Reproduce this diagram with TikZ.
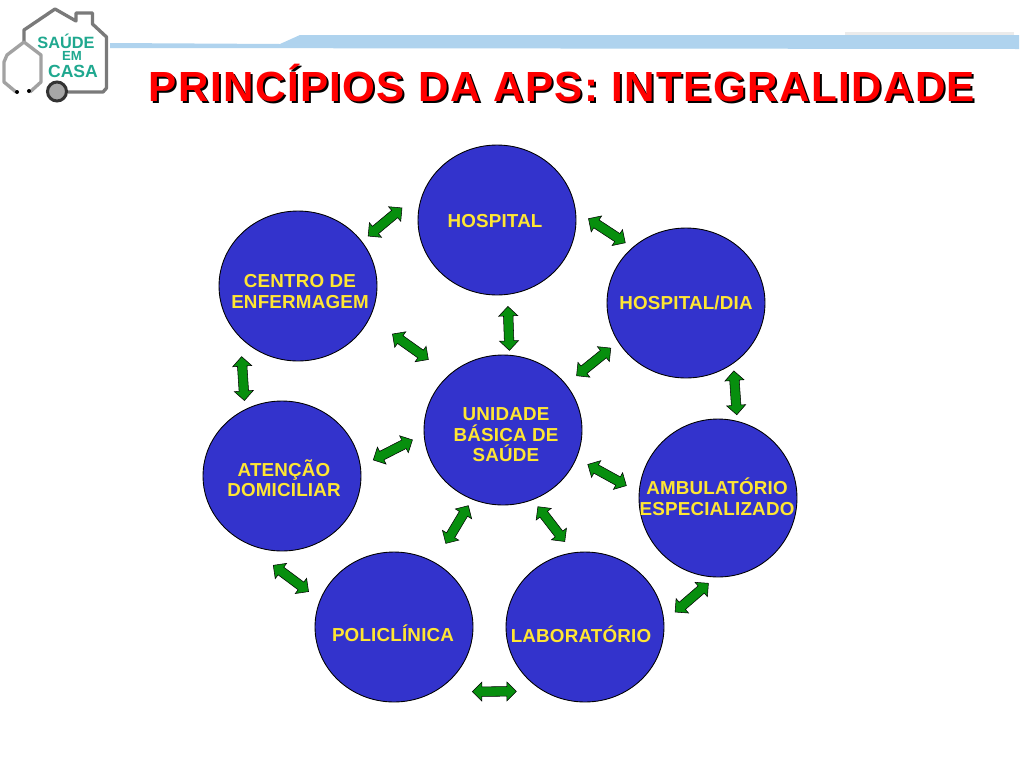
\documentclass[tikz,border=0pt]{standalone}
\usepackage{fontspec}
\setmainfont{Liberation Sans}
\usetikzlibrary{shapes.geometric,shapes.arrows}
\definecolor{unitblue}{HTML}{3333CC}
\definecolor{unityellow}{HTML}{FFE633}
\definecolor{linkgreen}{HTML}{078F0E}
\definecolor{bandblue}{HTML}{AFD3EE}
\definecolor{logoteal}{HTML}{1FA88F}
\definecolor{logogray}{HTML}{7A7A7A}
\tikzset{
  unit/.style={ellipse,draw=black,fill=unitblue,line width=0.5pt,inner sep=0pt,minimum width=3.16cm,minimum height=3.0cm},
  unittext/.style={text=unityellow,align=center,inner sep=0pt,font=\fontsize{10.7}{11.7}\selectfont\bfseries\addfontfeatures{LetterSpace=1}},
  link/.style={double arrow,draw=black,fill=linkgreen,line width=0.3pt,inner xsep=0pt,inner ysep=0.09cm,sloped,
    minimum height=0.88cm,minimum width=0.37cm,double arrow head extend=0.095cm},
  titletext/.style={anchor=base,inner sep=0pt,font=\fontsize{24}{28}\selectfont\bfseries\addfontfeatures{LetterSpace=3.3}},
  logotext/.style={text=logoteal,inner sep=0pt,font=\bfseries}
}
\begin{document}
\begin{tikzpicture}[x=0.02cm,y=0.02cm]
\useasboundingbox (0,0) rectangle (1024,-768);
\fill [white] (0,0) rectangle (1024,-768);
% top band
\fill [black!8] (845,-32) rectangle (1014,-36);
\fill [bandblue] (110,-43) -- (280,-44) -- (300,-35) -- (1019,-35) -- (1019,-49) -- (110,-48) -- cycle;
% logo
\draw [logogray,line width=1.9pt,line join=round] (24,-42) -- (24,-30) -- (55,-9) -- (76,-21) -- (76,-13) -- (92.5,-13) -- (92.5,-24) -- (106.5,-37) -- (106.5,-88) -- (103,-92) -- (68,-92);
\draw [logogray!70,line width=1.9pt,line join=round] (16,-92) -- (4,-82) -- (4,-62) -- (7,-55) -- (24,-42) -- (41,-55) -- (41,-82) -- (30,-92);
\fill [black] (17,-92) circle (2);
\fill [black] (29,-91) circle (2);
\draw [black!80,fill=black!35,line width=1.7pt] (57,-91.5) circle (9.5);
\node [logotext,font=\fontsize{9.3}{10}\selectfont\bfseries] (logoa) at (66,-41) {SAÚDE};
\node [logotext,font=\fontsize{7.5}{8}\selectfont\bfseries] (logob) at (72,-56) {EM};
\node [logotext,font=\fontsize{10}{11}\selectfont\bfseries] (logoc) at (73,-71) {CASA};
% title
\node [titletext,text=black] (titleshadow) at (564,-103) {PRINCÍPIOS DA APS: INTEGRALIDADE};
\node [titletext,text=red] (title) at (562,-101) {PRINCÍPIOS DA APS: INTEGRALIDADE};
% units
\node [unit] (hospital) at (497,-220) {};
\node [unit] (hospdia) at (686,-303) {};
\node [unit] (ubs) at (503,-430) {};
\node [unit,minimum height=3.16cm] (ambul) at (718,-498) {};
\node [unit] (lab) at (585,-627) {};
\node [unit] (poli) at (394,-627) {};
\node [unit] (atencao) at (282,-476) {};
\node [unit] (centro) at (298,-286) {};
% unit labels
\node [unittext] (hospitaltext) at (495,-221) {HOSPITAL};
\node [unittext] (hospdiatext) at (686,-303) {HOSPITAL/DIA};
\node [unittext] (ubstext) at (506,-435) {UNIDADE\\BÁSICA DE\\SAÚDE};
\node [unittext] (ambultext) at (717,-497) {AMBULATÓRIO\\ESPECIALIZADO};
\node [unittext] (labtext) at (581,-634) {LABORATÓRIO};
\node [unittext] (politext) at (393,-633) {POLICLÍNICA};
\node [unittext] (atencaotext) at (284,-478) {ATENÇÃO\\DOMICILIAR};
\node [unittext] (centrotext) at (300,-291.5) {CENTRO DE\\ENFERMAGEM};
% links
\path (centro.35.7) -- (hospital.157.3) node [link,pos=0.37] (lnka) {};
\path (hospital.7.8) -- (hospdia.134.3) node [link,pos=0.55] (lnkb) {};
\path (hospital.278.4) -- (ubs.85) node [link,pos=0.56] (lnkc) {};
\path (ubs.36.8) -- (hospdia.210.6) node [link,pos=0.53] (lnkd) {};
\path (centro.336.8) -- (ubs.134.8) node [link,pos=0.51] (lnke) {};
\path (hospdia.308) -- (ambul.76.8) node [link,pos=0.51] (lnkf) {};
\path (ubs.339.1) -- (ambul.176) node [link,pos=0.49] (lnkg) {};
\path (atencao.7) -- (ubs.183.2) node [link,pos=0.51] (lnkh) {};
\path (centro.222.8) -- (atencao.119.6) node [link,pos=0.57] (lnki) {};
\path (poli.58) -- (ubs.246.5) node [link,pos=0.60] (lnkj) {};
\path (ubs.293.3) -- (lab.99.7) node [link,pos=0.46] (lnkk) {};
\path (lab.4.8) -- (ambul.268.6) node [link,pos=0.54] (lnkl) {};
\path (atencao.233.1) -- (poli.160.7) node [link,pos=0.656] (lnkm) {};
\path (poli.302.8) -- (lab.237.2) node [link,pos=0.55] (lnkn) {};
\end{tikzpicture}
\end{document}
